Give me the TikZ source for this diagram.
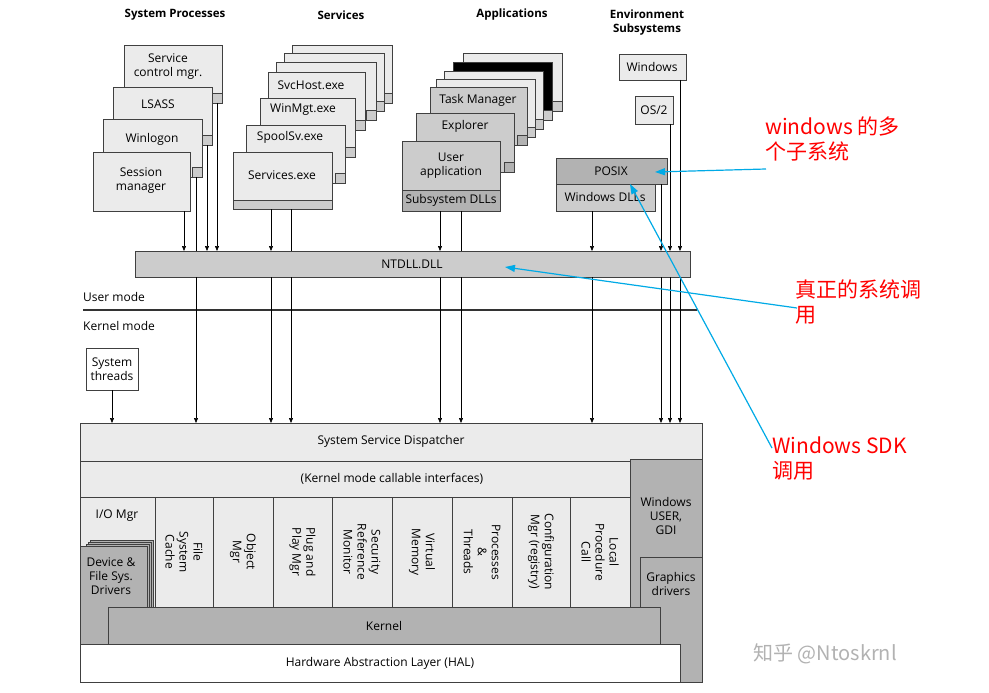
\documentclass[tikz,border=0pt]{standalone}
\usepackage{fontspec}
\setmainfont{Open Sans}
\newfontfamily\cjk{Noto Sans CJK SC}
\usetikzlibrary{arrows.meta}
\definecolor{lg}{gray}{0.92}
\definecolor{mg}{gray}{0.80}
\definecolor{dg}{gray}{0.70}
\definecolor{ann}{RGB}{0,170,230}
\begin{document}
\begin{tikzpicture}[x=1pt,y=-1pt,
 bx/.style={draw=black!75,fill=lg,line width=0.8pt},
 gx/.style={draw=black!75,fill=mg,line width=0.8pt},
 t/.style={font=\fontsize{12}{14}\selectfont,align=center,inner sep=0pt},
 hd/.style={font=\fontsize{11.5}{14}\selectfont\bfseries,align=center,inner sep=0pt},
 ar/.style={-{Triangle[length=5pt,width=4pt]},line width=0.6pt},
 ln/.style={line width=0.6pt},
 an/.style={-{Triangle[length=10pt,width=7pt]},ann,line width=1.2pt},
 rt/.style={font=\fontsize{21}{25}\selectfont\cjk,text=red,align=left,anchor=north west,inner sep=0pt},
 vt/.style={t,rotate=-90}]
\useasboundingbox (0,0) rectangle (989,693);
\fill[white] (0,0) rectangle (989,693);
% headings
\node[hd] (h1) at (175,15) {System Processes};
\node[hd] (h2) at (341,15) {Services};
\node[hd] (h3) at (512,15) {Applications};
\node[hd] (h4) at (647,23) {Environment\\Subsystems};
% system processes
\draw[bx] (124,45) rectangle (222,103); \draw[gx] (212,93) rectangle (222,103);
\node[t] (scm) at (168,67) {Service\\control mgr.};
\draw[bx] (113,87) rectangle (212,145); \draw[gx] (202,135) rectangle (212,145);
\node[t] (lsass) at (158,104) {LSASS};
\draw[bx] (103,119) rectangle (202,177); \draw[gx] (192,167) rectangle (202,177);
\node[t] (winl) at (152,139) {Winlogon};
\draw[bx] (93,152) rectangle (190,211);
\node[t] (sess) at (141,181) {Session\\manager};
% services
\foreach \i in {0,1,2} {
 \draw[bx] (292-8*\i,45+8.5*\i) rectangle (392-8*\i,103+8.5*\i);
 \draw[gx] (382-8*\i,93+8.5*\i) rectangle (392-8*\i,103+8.5*\i);}
\draw[bx] (268,72) rectangle (365,130); \draw[gx] (355,120) rectangle (365,130);
\node[t] (svch) at (311,85) {SvcHost.exe};
\draw[bx] (260,98) rectangle (355,157); \draw[gx] (345,147) rectangle (355,157);
\node[t] (winm) at (303,110) {WinMgt.exe};
\draw[bx] (246,125) rectangle (345,183); \draw[gx] (335,173) rectangle (345,183);
\node[t] (spool) at (290,137) {SpoolSv.exe};
\draw[bx] (233,152) rectangle (332,209); \draw[gx] (233,200) rectangle (332,209);
\node[t] (serv) at (282,175) {Services.exe};
% applications
\draw[bx] (463,53) rectangle (562,111); \draw[gx] (552,101) rectangle (562,111);
\draw[draw=black!75,fill=black] (453,62) rectangle (552,120); \draw[gx] (542,110) rectangle (552,120);
\draw[bx] (444,71) rectangle (543,129); \draw[gx] (533,119) rectangle (543,129);
\draw[bx] (436,79) rectangle (535,137); \draw[gx] (525,127) rectangle (535,137);
\draw[gx] (430,87) rectangle (527,145); \draw[draw=black!75,fill=dg] (517,135) rectangle (527,145);
\node[t] (task) at (478,100) {Task Manager};
\draw[gx] (416,113) rectangle (514,172); \draw[fill=dg,draw=black!75] (504,162) rectangle (514,172);
\node[t] (expl) at (465,126) {Explorer};
\draw[gx] (402,141) rectangle (500,211); \draw[draw=black!75,fill=dg] (402,190) rectangle (500,211);
\node[t] (uapp) at (451,166) {User\\application};
\node[t] (sdll) at (451,200) {Subsystem DLLs};
% environment subsystems
\draw[bx] (619,54) rectangle (686,80); \node[t] (win) at (652,67) {Windows};
\draw[bx] (635,96) rectangle (673,124); \node[t] (os2) at (654,110) {OS/2};
\draw[draw=black!75,fill=dg,line width=0.8pt] (556,158) rectangle (667,184); \node[t] (posix) at (611,171) {POSIX};
\draw[gx] (556,184) rectangle (655,211); \node[t] (wdll) at (605,197) {Windows DLLs};
% NTDLL
\draw[gx] (135,251) rectangle (690,277);
\node[t] (ntdll) at (412,264) {NTDLL.DLL};
% arrows into NTDLL
\draw[ar] (184,211) -- (184,251);
\draw[ln] (196,177) -- (196,251);
\draw[ar] (207,145) -- (207,251);
\draw[ar] (217,103) -- (217,251);
\draw[ar] (271,209) -- (271,251);
\draw[ln] (291,209) -- (291,251);
\draw[ar] (440,211) -- (440,251);
\draw[ln] (461,211) -- (461,251);
\draw[ar] (592,211) -- (592,251);
\draw[ar] (661,184) -- (661,251);
\draw[ar] (670,124) -- (670,251);
\draw[ar] (680,80) -- (680,251);
% modes
\node[t,anchor=west] (um) at (83,297) {User mode};
\draw[line width=2.5pt,black!80] (83,310) -- (697,310);
\node[t,anchor=west] (km) at (83,326) {Kernel mode};
\draw[bx,fill=white] (86,348) rectangle (138,390);
\node[t] (sth) at (112,369) {System\\threads};
\draw[ar] (112,390) -- (112,423);
\foreach \x in {196,271,291,440,461,592,661,670,680} \draw[ar] (\x,277) -- (\x,423);
% executive
\draw[bx] (80,423) rectangle (702,461);
\node[t] (ssd) at (391,441) {System Service Dispatcher};
\draw[draw=black!75,fill=dg,line width=0.8pt] (630,459) rectangle (702,682);
\draw[bx] (80,461) rectangle (630,497);
\node[t] (kmci) at (392,479) {(Kernel mode callable interfaces)};
\draw[draw=black!75,fill=dg,line width=0.8pt] (80,497) rectangle (155,644);
\draw[bx] (80,497) rectangle (155,607);
\node[t] (io) at (117,516) {I/O Mgr};
\foreach \d in {3,2,1} \draw[draw=black!75,fill=dg,line width=0.6pt] (84+2*\d,546-2*\d) rectangle (147+2*\d,607);
\draw[draw=black!75,fill=dg,line width=0.8pt] (80,546) rectangle (147,644);
\node[t] (dev) at (111,576) {Device \&\\File Sys.\\Drivers};
\foreach \a/\b/\l in {155/213/{File\\System\\Cache},213/273/{Object\\Mgr},273/332/{Plug and\\Play Mgr},332/392/{Security\\Reference\\Monitor},392/452/{Virtual\\Memory},452/512/{Processes\\\&\\Threads},512/570/{Configuration\\Mgr (registry)},570/630/{Local\\Procedure\\Call}}
 {\draw[bx] (\a,497) rectangle (\b,607); \node[vt] at ({(\a+\b)/2},552) {\l};}
\node[t] (wug) at (666,516) {Windows\\USER,\\GDI};
\draw[draw=black!75,fill=dg,line width=0.8pt] (640,557) rectangle (702,682);
\node[t] (gd) at (671,584) {Graphics\\drivers};
\draw[draw=black!75,fill=dg,line width=0.8pt] (108,607) rectangle (660,644);
\node[t] (kern) at (384,626) {Kernel};
\draw[draw=black!75,fill=white,line width=0.8pt] (80,644) rectangle (680,682);
\node[t] (hal) at (380,663) {Hardware Abstraction Layer (HAL)};
% annotations
\node[rt] (a1) at (765,117) {windows 的多\\个子系统};
\node[rt] (a2) at (795,280) {真正的系统调\\用};
\node[rt] (a3) at (772,437) {Windows SDK\\调用};
\coordinate (p1) at (766,169);
\coordinate (p2) at (797,308);
\coordinate (p3) at (772,448);
\draw[an] (p1) -- (655,172);
\draw[an] (p2) -- (505,267);
\draw[an] (p3) -- (630,184);
\node[font=\fontsize{20}{24}\selectfont\cjk,text=gray!60,anchor=west] (wm) at (750,654) {知乎 @Ntoskrnl};
\end{tikzpicture}
\end{document}
